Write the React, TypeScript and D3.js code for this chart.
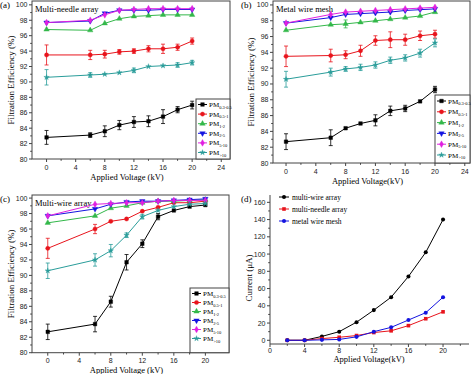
import React from 'react';
import { scaleLinear, line, symbol, symbolSquare, symbolCircle, symbolTriangle, symbolDiamond, symbolStar, range } from 'd3';

const voltages = [0, 6, 8, 10, 12, 14, 16, 18, 20];
const sizeLabels = ['0.3-0.5', '0.5-1', '1-2', '2-5', '5-10', '>10'];
const colors = ['#000000', '#e8141c', '#33b84a', '#1414e0', '#e020e0', '#2a9d9a'];

// panel (a) multi-needle array
const needleEff = [
  [82.8, 83.1, 83.6, 84.4, 84.8, 84.9, 85.5, 86.4, 87.0],
  [93.5, 93.5, 93.6, 93.9, 94.0, 94.3, 94.3, 94.5, 95.3],
  [96.8, 96.7, 97.6, 98.2, 98.5, 98.6, 98.7, 98.7, 98.7],
  [97.7, 97.9, 98.9, 99.3, 99.3, 99.3, 99.4, 99.4, 99.4],
  [97.7, 98.0, 98.7, 99.3, 99.4, 99.5, 99.5, 99.5, 99.5],
  [90.6, 90.9, 91.0, 91.2, 91.5, 92.0, 92.1, 92.2, 92.5],
];
const needleErr = [
  [0.9, 0.3, 0.7, 0.6, 0.7, 0.7, 0.9, 0.4, 0.5],
  [1.3, 0.6, 0.5, 0.3, 0.3, 0.4, 0.6, 0.4, 0.4],
  [0.1, 0.1, 0.2, 0.1, 0.1, 0.1, 0.1, 0.1, 0.1],
  [0.1, 0.2, 0.2, 0.1, 0.1, 0.1, 0.1, 0.1, 0.1],
  [0.1, 0.2, 0.2, 0.2, 0.2, 0.2, 0.2, 0.1, 0.1],
  [1.0, 0.3, 0.2, 0.2, 0.3, 0.1, 0.1, 0.3, 0.3],
];

// panel (b) metal wire mesh
const meshEff = [
  [82.7, 83.2, 84.4, 85.0, 85.4, 86.6, 86.9, 87.8, 89.3],
  [93.5, 93.6, 93.7, 94.2, 95.5, 95.6, 95.6, 96.1, 96.3],
  [96.8, 97.5, 97.6, 97.8, 98.0, 98.2, 98.4, 98.6, 99.1],
  [97.7, 98.4, 98.8, 98.9, 99.0, 99.1, 99.3, 99.4, 99.5],
  [97.7, 98.8, 99.1, 99.2, 99.3, 99.4, 99.5, 99.6, 99.7],
  [90.6, 91.5, 91.9, 92.1, 92.4, 93.0, 93.3, 93.9, 95.2],
];
const meshErr = [
  [1.0, 1.0, 0.2, 0.2, 0.7, 0.6, 0.4, 0.2, 0.4],
  [1.3, 0.8, 0.5, 0.7, 0.6, 1.0, 0.7, 0.6, 0.5],
  [0.1, 0.2, 0.5, 0.2, 0.2, 0.2, 0.2, 0.2, 0.1],
  [0.1, 0.2, 0.2, 0.2, 0.2, 0.2, 0.2, 0.2, 0.1],
  [0.1, 0.2, 0.1, 0.1, 0.1, 0.1, 0.1, 0.1, 0.1],
  [1.0, 0.5, 0.3, 0.4, 0.4, 0.4, 0.4, 0.5, 0.5],
];

// panel (c) multi-wire array
const wireEff = [
  [82.7, 83.7, 86.6, 91.7, 94.1, 97.6, 98.4, 98.9, 99.1],
  [93.5, 96.0, 97.0, 97.3, 98.3, 98.8, 99.4, 99.4, 99.6],
  [96.8, 97.7, 98.7, 99.0, 99.4, 99.6, 99.6, 99.7, 99.8],
  [97.7, 98.6, 99.2, 99.5, 99.6, 99.6, 99.7, 99.8, 99.9],
  [97.7, 99.2, 99.3, 99.4, 99.4, 99.6, 99.7, 99.7, 99.7],
  [90.6, 92.0, 93.2, 95.2, 97.6, 98.4, 98.9, 99.2, 99.3],
];
const wireErr = [
  [1.0, 1.0, 0.7, 1.0, 0.5, 0.4, 0.2, 0.2, 0.2],
  [1.3, 0.6, 0.1, 0.2, 0.2, 0.2, 0.1, 0.1, 0.1],
  [0.1, 0.2, 0.2, 0.1, 0.1, 0.1, 0.1, 0.1, 0.1],
  [0.1, 0.2, 0.1, 0.1, 0.1, 0.1, 0.1, 0.1, 0.1],
  [0.1, 0.1, 0.1, 0.1, 0.1, 0.1, 0.1, 0.1, 0.1],
  [1.0, 0.8, 0.8, 0.3, 0.3, 0.2, 0.2, 0.2, 0.2],
];

// panel (d) current
const currentVoltages = [2, 4, 6, 8, 10, 12, 14, 16, 18, 20];
const currentNames = ['multi-wire array', 'multi-needle array', 'metal wire mesh'];
const currentColors = ['#000000', '#e8141c', '#1414e0'];
const currentValues = [
  [0, 0, 4.5, 10, 21, 35, 50, 74, 102, 140],
  [0, 0, 2, 3.5, 5.5, 9, 11, 17, 25, 33],
  [0, 0, 0.5, 1, 4, 10, 15, 23.5, 32, 50],
];

const symbols = [symbolSquare, symbolCircle, symbolTriangle, symbolTriangle, symbolDiamond, symbolStar];
const serif = '"Liberation Serif", "DejaVu Serif", serif';
const sans = '"Liberation Sans", Arial, sans-serif';
const frameColor = '#444';

function Marker({ i, x, y, color }: { i: number; x: number; y: number; color: string }) {
  const p = symbol().type(symbols[i]).size(i === 5 ? 9 : i === 1 ? 14 : 13)();
  const rot = i === 3 ? 180 : 0;
  return <path d={p as string} transform={`translate(${x},${y}) rotate(${rot})`} fill={color} stroke={color} strokeWidth={0.4} />;
}

interface PanelProps {
  label: string;
  title: string;
  eff: number[][];
  err: number[][];
  xDom: [number, number];
  xRange: [number, number];
  yDom: [number, number];
  yRange: [number, number];
  xTickMax: number;
  xTitle: string;
  xTitleY: number;
  tickLabelY: number;
  yTitleX: number;
  legend: { x0: number; x1: number; y0: number; rowY: number; step: number };
}

function Panel(p: PanelProps) {
  const x = scaleLinear().domain(p.xDom).range(p.xRange);
  const y = scaleLinear().domain(p.yDom).range(p.yRange);
  const [left, right] = p.xRange;
  const [bottom, top] = p.yRange;
  const ln = line<number>().x((_, j) => x(voltages[j])).y(d => y(d));
  const xMajor = range(0, p.xTickMax + 1, 4);
  const xMinor = range(2, p.xTickMax + 1, 4);
  const yMajor = range(80, 101, 2);
  const yMinor = range(81, 100, 2);
  const lg = p.legend;
  return (
    <g>
      <rect x={left} y={top} width={right - left} height={bottom - top} fill="none" stroke={frameColor} strokeWidth={1} />
      {xMajor.map(t => (
        <g key={'xm' + t}>
          <line x1={x(t)} x2={x(t)} y1={bottom} y2={bottom + 3} stroke={frameColor} />
          <text x={x(t)} y={p.tickLabelY} fontSize={7} fontFamily={sans} textAnchor="middle" fill="#222">{t}</text>
        </g>
      ))}
      {xMinor.map(t => <line key={'xn' + t} x1={x(t)} x2={x(t)} y1={bottom} y2={bottom + 1.8} stroke={frameColor} />)}
      {yMajor.map(t => (
        <g key={'ym' + t}>
          <line x1={left - 3} x2={left} y1={y(t)} y2={y(t)} stroke={frameColor} />
          <text x={left - 4.5} y={y(t) + 2.5} fontSize={7} fontFamily={sans} textAnchor="end" fill="#222">{t}</text>
        </g>
      ))}
      {yMinor.map(t => <line key={'yn' + t} x1={left - 1.8} x2={left} y1={y(t)} y2={y(t)} stroke={frameColor} />)}
      <text x={(left + right) / 2 - 4} y={p.xTitleY} fontSize={8.5} fontFamily={serif} textAnchor="middle">{p.xTitle}</text>
      <text transform={`translate(${p.yTitleX},${(top + bottom) / 2}) rotate(-90)`} fontSize={9} fontFamily={serif} textAnchor="middle">Filtration Efficiency (%)</text>
      <text x={left + 3} y={top + 11} fontSize={8.5} fontFamily={serif}>{p.title}</text>
      <text x={p.xRange[0] - 32} y={top + 7} fontSize={9} fontFamily={serif}>{p.label}</text>
      {p.eff.map((series, i) => (
        <g key={'s' + i}>
          {series.map((v, j) => {
            const e = p.err[i][j];
            if (e < 0.25) return null;
            const cx = x(voltages[j]);
            return (
              <g key={j} stroke={colors[i]} strokeWidth={0.8}>
                <line x1={cx} x2={cx} y1={y(v - e)} y2={y(v + e)} />
                <line x1={cx - 2} x2={cx + 2} y1={y(v - e)} y2={y(v - e)} />
                <line x1={cx - 2} x2={cx + 2} y1={y(v + e)} y2={y(v + e)} />
              </g>
            );
          })}
          <path d={ln(series) as string} fill="none" stroke={colors[i]} strokeWidth={1} />
          {series.map((v, j) => <Marker key={j} i={i} x={x(voltages[j])} y={y(v)} color={colors[i]} />)}
        </g>
      ))}
      <rect x={lg.x0} y={lg.y0} width={lg.x1 - lg.x0} height={bottom - lg.y0} fill="white" stroke={frameColor} strokeWidth={1} />
      {sizeLabels.map((s, i) => {
        const ry = lg.rowY + i * lg.step;
        return (
          <g key={'lg' + i}>
            <line x1={lg.x0 + 2} x2={lg.x0 + 11} y1={ry} y2={ry} stroke={colors[i]} />
            <Marker i={i} x={lg.x0 + 6.5} y={ry} color={colors[i]} />
            <text x={lg.x0 + 13} y={ry + 2.5} fontSize={7} fontFamily={serif}>PM<tspan fontSize={4.5} dy={1.5}>{s}</tspan></text>
          </g>
        );
      })}
    </g>
  );
}

function CurrentPanel() {
  const x = scaleLinear().domain([0, 23]).range([270, 469]);
  const y = scaleLinear().domain([-4.3, 168.5]).range([344, 195]);
  const ln = line<number>().x((_, j) => x(currentVoltages[j])).y(d => y(d));
  return (
    <g>
      <line x1={270} x2={270} y1={195} y2={344} stroke={frameColor} />
      <line x1={270} x2={469} y1={344} y2={344} stroke={frameColor} />
      {range(0, 21, 4).map(t => (
        <g key={'x' + t}>
          <line x1={x(t)} x2={x(t)} y1={344} y2={347} stroke={frameColor} />
          <text x={x(t)} y={352.5} fontSize={7} fontFamily={sans} textAnchor="middle" fill="#222">{t}</text>
        </g>
      ))}
      {range(2, 23, 4).map(t => <line key={'xn' + t} x1={x(t)} x2={x(t)} y1={344} y2={345.8} stroke={frameColor} />)}
      {range(0, 161, 20).map(t => (
        <g key={'y' + t}>
          <line x1={267} x2={270} y1={y(t)} y2={y(t)} stroke={frameColor} />
          <text x={265.5} y={y(t) + 2.5} fontSize={7} fontFamily={sans} textAnchor="end" fill="#222">{t}</text>
        </g>
      ))}
      {range(10, 161, 20).map(t => <line key={'yn' + t} x1={268.2} x2={270} y1={y(t)} y2={y(t)} stroke={frameColor} />)}
      <text x={369} y={362} fontSize={8.5} fontFamily={serif} textAnchor="middle">Applied Voltage(kV)</text>
      <text transform={`translate(252,278) rotate(-90)`} fontSize={9} fontFamily={serif} textAnchor="middle">Current (μA)</text>
      <text x={241} y={202} fontSize={9} fontFamily={serif}>(d)</text>
      {currentValues.map((series, i) => (
        <g key={i}>
          <path d={ln(series) as string} fill="none" stroke={currentColors[i]} strokeWidth={1} />
          {series.map((v, j) => (
            <path key={j} d={symbol().type(i === 1 ? symbolSquare : symbolCircle).size(13)() as string}
              transform={`translate(${x(currentVoltages[j])},${y(v)})`} fill={currentColors[i]} />
          ))}
        </g>
      ))}
      {currentNames.map((n, i) => {
        const ry = 197 + i * 12;
        return (
          <g key={'l' + i}>
            <line x1={279} x2={289} y1={ry} y2={ry} stroke={currentColors[i]} />
            <path d={symbol().type(i === 1 ? symbolSquare : symbolCircle).size(13)() as string} transform={`translate(284,${ry})`} fill={currentColors[i]} />
            <text x={292} y={ry + 2.5} fontSize={7.5} fontFamily={serif}>{n}</text>
          </g>
        );
      })}
    </g>
  );
}

function App() {
  return (
    <svg width={474} height={374} style={{ position: 'absolute', left: 0, top: 0, background: 'white' }}>
      <Panel label="(a)" title="Multi-needle array" eff={needleEff} err={needleErr}
        xDom={[-2, 25.2]} xRange={[32, 230]} yDom={[80, 100.5]} yRange={[159, 1]} xTickMax={24}
        xTitle="Applied Voltage (kV)" xTitleY={179.5} tickLabelY={169.5} yTitleX={14}
        legend={{ x0: 196, x1: 230, y0: 99, rowY: 104.5, step: 9.6 }} />
      <Panel label="(b)" title="Metal wire mesh" eff={meshEff} err={meshErr}
        xDom={[-1.75, 24.7]} xRange={[273, 470]} yDom={[80, 100.5]} yRange={[163, 1]} xTickMax={24}
        xTitle="Applied Voltage(kV)" xTitleY={183.5} tickLabelY={174} yTitleX={254}
        legend={{ x0: 435, x1: 470, y0: 95, rowY: 101, step: 10.8 }} />
      <Panel label="(c)" title="Multi-wire array" eff={wireEff} err={wireErr}
        xDom={[-2, 23]} xRange={[32, 229]} yDom={[80, 100.4]} yRange={[352.7, 195]} xTickMax={20}
        xTitle="Applied Voltage (kV)" xTitleY={372.5} tickLabelY={363} yTitleX={14}
        legend={{ x0: 190, x1: 229, y0: 288, rowY: 293.5, step: 9 }} />
      <CurrentPanel />
    </svg>
  );
}

export default App;
